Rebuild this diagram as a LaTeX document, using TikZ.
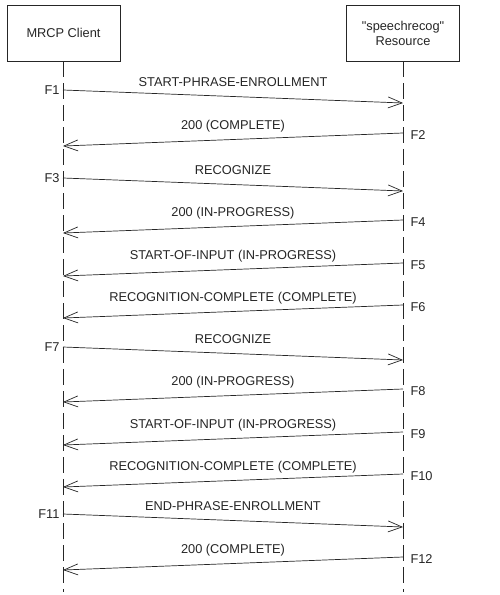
\documentclass[tikz,border=0pt]{standalone}
\usepackage{fontspec}
\setmainfont{Liberation Sans}
\usetikzlibrary{arrows.meta,positioning}
\newcommand\straightdq{\XeTeXglyph\XeTeXcharglyph"22\relax}

\begin{document}
\begin{tikzpicture}[
  x=1pt, y=-1pt, >={Straight Barb[length=14pt,width=11pt]},
  every node/.style={font=\fontsize{12.8}{15}\selectfont, text=black!85},
  actor/.style={draw=black!85, line width=0.7pt, minimum width=113pt,
                minimum height=56pt, align=center},
  lifeline/.style={draw=black!85, line width=0.7pt, dash pattern=on 16pt off 6pt},
  msg/.style={->, draw=black!85, line width=0.7pt},
  msglabel/.style={above=6.5pt, text depth=0pt}
]
  \fill[white] (0,0) rectangle (500,595);
  \useasboundingbox (0,0) rectangle (500,595);

  \node[actor] (client) at (63.5,33) {MRCP Client};
  \node[actor] (res) at (403,33) {\straightdq speechrecog\straightdq\\Resource};

  \coordinate (cend) at (63,592);
  \coordinate (rend) at (403,592);
  \draw[lifeline] (63,61) -- (cend);
  \draw[lifeline] (403,61) -- (rend);

  % client -> resource
  \foreach \n/\ys/\txt in {1/90/START-PHRASE-ENROLLMENT, 3/178/RECOGNIZE,
                           7/347/RECOGNIZE, 11/514/END-PHRASE-ENROLLMENT} {
    \coordinate (s\n) at (63,\ys);
    \coordinate (e\n) at (403,\ys+13);
    \draw[msg] (s\n) -- node[msglabel] {\txt} (e\n);
    \node[left=0pt of s\n] (f\n) {F\n};
  }

  % resource -> client
  \foreach \n/\ys/\txt in {2/133/{200 (COMPLETE)}, 4/220/{200 (IN-PROGRESS)},
                           5/263/{START-OF-INPUT (IN-PROGRESS)},
                           6/305/{RECOGNITION-COMPLETE (COMPLETE)},
                           8/389/{200 (IN-PROGRESS)},
                           9/432/{START-OF-INPUT (IN-PROGRESS)},
                           10/474/{RECOGNITION-COMPLETE (COMPLETE)},
                           12/557/{200 (COMPLETE)}} {
    \coordinate (s\n) at (403,\ys);
    \coordinate (e\n) at (63,\ys+13);
    \draw[msg] (s\n) -- node[msglabel] {\txt} (e\n);
    \node[right=4pt of s\n, yshift=-2.5pt] (f\n) {F\n};
  }
\end{tikzpicture}
\end{document}
